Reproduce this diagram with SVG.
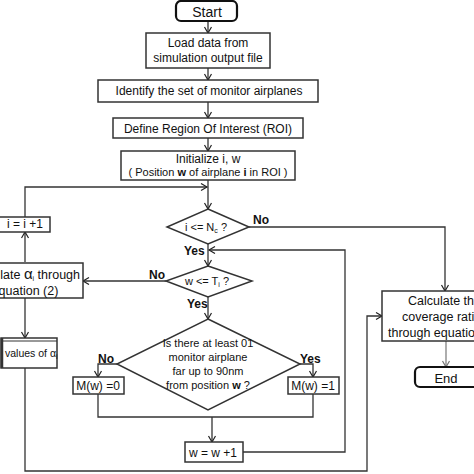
<svg xmlns="http://www.w3.org/2000/svg" width="474" height="474" viewBox="0 0 474 474">
<defs>
<marker id="arr" markerWidth="10" markerHeight="10" refX="7" refY="4" orient="auto" markerUnits="userSpaceOnUse">
<path d="M1,0.5 L7,4 L1,7.5" fill="none" stroke="#222" stroke-width="1.2"/>
</marker>
<marker id="arrg" markerWidth="10" markerHeight="10" refX="7" refY="4" orient="auto" markerUnits="userSpaceOnUse">
<path d="M1,0.5 L7,4 L1,7.5" fill="none" stroke="#777" stroke-width="1.2"/>
</marker>
</defs>
<style>
text{font-family:"Liberation Sans",Arial,sans-serif;font-size:12px;fill:#111}
.c{text-anchor:middle}
.s{font-size:11px}
.b{font-weight:bold}
.box{fill:#fff;stroke:#333;stroke-width:1.5}
.term{fill:#fff;stroke:#111;stroke-width:2.2}
.ln{fill:none;stroke:#333;stroke-width:1.3}
.sub{font-size:7px}
</style>
<rect width="474" height="474" fill="#fff"/>
<g id="connectors">
<path class="ln" d="M208,21 V33" marker-end="url(#arr)"/>
<path class="ln" d="M208,68 V80" marker-end="url(#arr)"/>
<path class="ln" d="M208,102 V118" marker-end="url(#arr)"/>
<path class="ln" d="M208,138 V151" marker-end="url(#arr)"/>
<path class="ln" d="M208,180 V209" marker-end="url(#arr)"/>
<path class="ln" d="M25,217 V187 H207" marker-end="url(#arr)"/>
<path class="ln" d="M249,227 H445 V291" marker-end="url(#arr)"/>
<path class="ln" d="M208,244 V266" marker-end="url(#arr)"/>
<path class="ln" d="M243,452 H345 V250 H209" marker-end="url(#arr)"/>
<path class="ln" d="M166,281 H83" marker-end="url(#arr)"/>
<path class="ln" d="M25,262 V232" marker-end="url(#arr)" stroke-width="1.8"/>
<path class="ln" d="M208,297 V319" marker-end="url(#arr)"/>
<path class="ln" d="M117,364 H98 V377" marker-end="url(#arr)"/>
<path class="ln" d="M300,364 H313 V377" marker-end="url(#arr)"/>
<path class="ln" d="M98,394 V417 H313 V394"/>
<path class="ln" d="M212,417 V442" marker-end="url(#arr)"/>
<path class="ln" d="M25,298 V338" marker-end="url(#arr)"/>
<path class="ln" d="M25,368 V471 H367 V316 H382" marker-end="url(#arr)"/>
<path d="M446,341 V367" fill="none" stroke="#777" stroke-width="1.2" marker-end="url(#arrg)"/>
</g>
<g id="start">
<rect class="term" x="176" y="1" width="61" height="20" rx="5"/>
<text class="c" x="207" y="17" style="font-size:14px">Start</text>
</g>
<g id="load">
<rect class="box" x="146" y="33" width="124" height="35"/>
<text class="c" x="208" y="47">Load data from</text>
<text class="c" x="208" y="62">simulation output file</text>
</g>
<g id="identify">
<rect class="box" x="98" y="80" width="220" height="22"/>
<text class="c" x="209" y="95">Identify the set of monitor airplanes</text>
</g>
<g id="roi">
<rect class="box" x="113" y="118" width="190" height="20"/>
<text class="c" x="208" y="133">Define Region Of Interest (ROI)</text>
</g>
<g id="init">
<rect class="box" x="121" y="151" width="174" height="29"/>
<text class="c" x="208" y="163">Initialize i, w</text>
<text class="c s" x="208" y="176">( Position <tspan class="b">w</tspan> of airplane <tspan class="b">i</tspan> in ROI )</text>
</g>
<g id="dec1">
<polygon class="box" points="208,209 249,227 208,244 167,227"/>
<text class="c s" x="206" y="231">i &lt;= N<tspan class="sub" dy="2">c</tspan><tspan dy="-2"> ?</tspan></text>
<text class="b" x="253" y="224">No</text>
<text class="b" x="184" y="255">Yes</text>
</g>
<g id="inc-i">
<rect class="box" x="-5" y="217" width="55" height="15"/>
<text class="c" x="25" y="228">i = i +1</text>
</g>
<g id="dec2">
<polygon class="box" points="208,266 252,281 208,297 166,281"/>
<text class="c s" x="207" y="285">w &lt;= T<tspan class="sub" dy="2">i</tspan><tspan dy="-2"> ?</tspan></text>
<text class="b" x="149" y="279">No</text>
<text class="b" x="187" y="308">Yes</text>
</g>
<g id="calc-alpha">
<rect class="box" x="-33" y="263" width="116" height="35"/>
<text x="80" y="279" style="text-anchor:end;font-size:12.5px">Calculate <tspan style="font-size:15px">α</tspan><tspan class="sub" dy="2">i</tspan><tspan dy="-2"> through</tspan></text>
<text class="c" x="25" y="295" style="font-size:12.5px">equation (2)</text>
</g>
<g id="values">
<rect class="box" x="1" y="338" width="56" height="30"/>
<line x1="1" y1="341" x2="57" y2="341" stroke="#333" stroke-width="1"/>
<line x1="2" y1="338" x2="2" y2="368" stroke="#333" stroke-width="2.5"/>
<text x="5" y="357" style="font-size:10.5px">values of α<tspan class="sub" dy="2">i</tspan></text>
</g>
<g id="dec3">
<polygon class="box" points="208,319 300,364 208,410 117,364"/>
<text class="c s" x="208" y="347">Is there at least 01</text>
<text class="c s" x="208" y="361">monitor airplane</text>
<text class="c s" x="208" y="375">far up to 90nm</text>
<text class="c s" x="208" y="389">from position <tspan class="b">w</tspan> ?</text>
<text class="b" x="98" y="363">No</text>
<text class="b" x="300" y="363">Yes</text>
</g>
<g id="m0">
<rect class="box" x="73" y="377" width="51" height="17"/>
<text class="c" x="98" y="390">M(w) =0</text>
</g>
<g id="m1">
<rect class="box" x="288" y="377" width="51" height="17"/>
<text class="c" x="313" y="390">M(w) =1</text>
</g>
<g id="inc-w">
<rect class="box" x="185" y="442" width="58" height="20"/>
<text class="c" x="213" y="457">w = w +1</text>
</g>
<g id="calc-cov">
<rect class="box" x="382" y="291" width="130" height="50"/>
<text x="408" y="305" style="font-size:12.5px">Calculate  the</text>
<text x="402" y="321" style="font-size:12.5px">coverage ratio</text>
<text x="388" y="337" style="font-size:12.5px">through equation</text>
</g>
<g id="end">
<rect class="term" x="415" y="367" width="64" height="20" rx="5"/>
<text class="c" x="446" y="383" style="font-size:13px">End</text>
</g>
</svg>
